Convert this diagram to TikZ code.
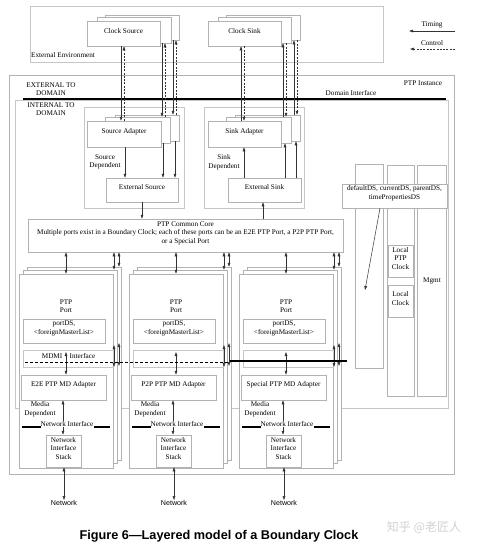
\documentclass[tikz,border=0pt]{standalone}
\usepackage{fontspec}
\setmainfont{Liberation Serif}
\newfontfamily\arialf{Liberation Sans}
\newfontfamily\cjkf{Noto Sans CJK SC}
\usetikzlibrary{arrows.meta,fit}
\begin{document}
\begin{tikzpicture}[x=1pt,y=-1pt,
  >={Triangle[length=4pt,width=2.6pt]},
  every node/.style={font=\fontsize{7.2}{8.6}\selectfont, inner sep=0pt, align=center},
  box/.style={draw=gray!60, fill=white, line width=0.5pt},
  frame/.style={draw=gray!45, line width=0.5pt},
  ar/.style={->, draw=black!80, line width=0.5pt},
  dar/.style={<->, draw=black!80, line width=0.5pt},
  ctl/.style={->, draw=black!80, line width=0.5pt, dash pattern=on 2pt off 1.3pt},
  thick line/.style={line width=1.3pt, draw=black},
  sans/.style={font=\arialf\fontsize{7.1}{8.5}\selectfont}]
\useasboundingbox (0,0) rectangle (481,547);
\fill[white] (0,0) rectangle (481,547);

% ---------------- external environment
\node[frame, fit={(30,6)(383,62)}] (env) {};
\node[anchor=west] (envl) at (31,55) {External Environment};
\node[box, fit={(105,15)(179,40)}] (csrcC) {};
\node[box, fit={(97,17)(171,43)}] (csrcB) {};
\node[box, fit={(87,21)(160,46)}] (csrc) {Clock Source};
\node[box, fit={(226,15)(300,40)}] (csnkC) {};
\node[box, fit={(218,17)(291,43)}] (csnkB) {};
\node[box, fit={(208,21)(281,46)}] (csnk) {Clock Sink};

% legend
\node (tim) at (432,25) {Timing};
\coordinate (tA) at (455,31); \coordinate (tB) at (409,31);
\draw[ar] (tA) -- (tB);
\node (con) at (432,43) {Control};
\coordinate (cA) at (455,49); \coordinate (cB) at (410,49);
\draw[ctl] (cA) -- (cB);

% ---------------- PTP instance
\node[box, fill=none, fit={(9,75)(454,474)}] (inst) {};
\node (instl) at (423,83) {PTP Instance};
\node[frame, fit={(15,100)(448,408)}] (intern) {};
\node (dil) at (351,93) {Domain Interface};
\coordinate (dl) at (23,99); \coordinate (dr) at (446,99);
\draw[thick line] (dl) -- (dr);
\node (ext) at (51,89) {EXTERNAL TO\\DOMAIN};
\node (int) at (51,109) {INTERNAL TO\\DOMAIN};

% source / sink groups
\node[frame, fit={(84,107)(184,208)}] (srcg) {};
\node[frame, fit={(204,107)(304,208)}] (snkg) {};
\node[box, fit={(115,115)(179,141)}] (srcadC) {};
\node[box, fit={(105,117)(170,143)}] (srcadB) {};
\node[box, fit={(87,121)(161,147)}] (srcad) {Source Adapter};
\node[box, fit={(235,115)(300,141)}] (snkadC) {};
\node[box, fit={(226,117)(291,143)}] (snkadB) {};
\node[box, fit={(208,121)(281,147)}] (snkad) {Sink Adapter};
\node (srcdep) at (105,162) {Source\\Dependent};
\node (snkdep) at (224,162) {Sink\\Dependent};
\node[box, fit={(106,178)(178,202)}] (extsrc) {External Source};
\node[box, fit={(228,178)(301,202)}] (extsnk) {External Sink};

% column coordinates
\foreach \n/\x in {sA/121,sAd/124,sB/162,sBd/165,sC/173,sCd/176,
                   kA/241,kAd/244,kB/283,kBd/286,kC/294,kCd/297,
                   lA/125,lB/163,lC/175,mA/244,mB/285,mC/296,
                   cs/142,ck/263,dsx/380}
  {\coordinate (\n) at (\x,0);}

% clock <-> adapter
\draw[ar]  (csrc.south -| sA)   -- (srcad.north -| sA);
\draw[ctl] (srcad.north -| sAd) -- (csrc.south -| sAd);
\draw[ar]  (csrcB.south -| sB)  -- (srcadB.north -| sB);
\draw[ctl] (srcadB.north -| sBd) -- (csrcB.south -| sBd);
\draw[ar]  (csrcC.south -| sC)  -- (srcadC.north -| sC);
\draw[ctl] (srcadC.north -| sCd) -- (csrcC.south -| sCd);
\draw[ar]  (snkad.north -| kA)  -- (csnk.south -| kA);
\draw[ctl] (csnk.south -| kAd)  -- (snkad.north -| kAd);
\draw[ar]  (snkadB.north -| kB) -- (csnkB.south -| kB);
\draw[ctl] (csnkB.south -| kBd) -- (snkadB.north -| kBd);
\draw[ar]  (snkadC.north -| kC) -- (csnkC.south -| kC);
\draw[ctl] (csnkC.south -| kCd) -- (snkadC.north -| kCd);

% adapter <-> external source/sink
\draw[ar] (srcad.south -| lA)  -- (extsrc.north -| lA);
\draw[ar] (srcadB.south -| lB) -- (extsrc.north -| lB);
\draw[ar] (srcadC.south -| lC) -- (extsrc.north -| lC);
\draw[ar] (extsnk.north -| mA) -- (snkad.south -| mA);
\draw[ar] (extsnk.north -| mB) -- (snkadB.south -| mB);
\draw[ar] (extsnk.north -| mC) -- (snkadC.south -| mC);

% common core
\node[box, fit={(28,219)(343,252)}] (core) {PTP Common Core\\Multiple ports exist in a Boundary Clock; each of these ports can be an E2E PTP Port, a P2P PTP Port,\\or a Special Port};
\draw[ar] (extsrc.south -| cs) -- (core.north -| cs);
\draw[ar] (core.north -| ck) -- (extsnk.south -| ck);

% management
\node[box, fit={(355,164)(383,368)}] (col1) {};
\node[box, fit={(387,165)(414,396)}] (col2) {};
\node[box, fit={(417,165)(446,396)}] (col3) {};
\node[box, fit={(342,184)(447,208)}] (ds) {defaultDS, currentDS, parentDS,\\timePropertiesDS};
\coordinate (dsA) at (365,290);
\draw[ar] (ds.south -| dsx) -- (dsA);
\node[box, fit={(388,245)(413,277)}] (lptp) {Local\\PTP\\Clock};
\node[box, fit={(388,285)(413,317)}] (lclk) {Local\\Clock};
\node (mgmt) at (432,281) {Mgmt};

% ---------------- ports
\foreach \px/\i/\t in {19/1/E2E PTP MD Adapter,129/2/P2P PTP MD Adapter,239/3/Special PTP MD Adapter}{
  \node[box, fit={({\px+8},267)({\px+102},460)}] (portC\i) {};
  \node[box, fit={({\px+4},270)({\px+98},463)}] (portB\i) {};
  \node[box, fit={(\px,274)({\px+94},468)}] (port\i) {};
  \node (ptpl\i) at ({\px+47},306) {PTP\\Port};
  \node[box, fit={({\px+4},319)({\px+86},343)}] (pds\i) {portDS,\\\textless foreignMasterList\textgreater};
  \node[frame, fit={({\px+4},350)({\px+94},367)}] (mdmi\i) {};
  \node[box, fit={({\px+2},375)({\px+87},400)}] (mda\i) {\t};
  \node (md\i) at ({\px+21},409) {Media\\Dependent};
  \node (ni\i) at ({\px+48},424) {Network Interface};
  \coordinate (nl1\i) at ({\px+3},427);  \coordinate (nl2\i) at ({\px+22},427);
  \coordinate (nr1\i) at ({\px+75},427); \coordinate (nr2\i) at ({\px+91},427);
  \draw[thick line] (nl1\i) -- (nl2\i);
  \draw[thick line] (nr1\i) -- (nr2\i);
  \node[box, fit={({\px+27},435)({\px+62},467)}] (nis\i) {Network\\Interface\\Stack};
  \node[sans] (net\i) at ({\px+45},503) {Network};
  % column coordinates
  \coordinate (pc\i) at ({\px+47},0);
  \coordinate (pa\i) at ({\px+44},0);
  \coordinate (pn\i) at ({\px+45},0);
  \coordinate (pr\i) at ({\px+95},0);
  \coordinate (pq\i) at ({\px+100},0);
  \coordinate (mt\i) at ({\px+47},352);
  \coordinate (ra\i) at ({\px+95},345); \coordinate (rb\i) at ({\px+95},367);
  \coordinate (qa\i) at ({\px+100},343); \coordinate (qb\i) at ({\px+100},366);
  % connectors
  \draw[dar] (core.south -| pc\i) -- (port\i.north -| pc\i);
  \draw[dar] (core.south -| pr\i) -- (portB\i.north -| pr\i);
  \draw[dar] (core.south -| pq\i) -- (portC\i.north -| pq\i);
  \draw[dar] (mt\i) -- (mda\i.north -| mt\i);
  \draw[dar] (ra\i) -- (rb\i);
  \draw[dar] (qa\i) -- (qb\i);
  \draw[ar] (ni\i.north -| pa\i) -- (mda\i.south -| pa\i);
  \draw[ar] (ni\i.south -| pa\i) -- (nis\i.north -| pa\i);
  \draw[dar] (nis\i.south -| pn\i) -- (net\i.north -| pn\i);
}

% MDMI interface
\node[fill=white, inner sep=0.5pt, anchor=east] (mdmiA) at (63,356) {MDMI};
\node[fill=white, inner sep=0.5pt, anchor=west] (mdmiB) at (69,356) {Interface};
\coordinate (mdL) at (25,362); \coordinate (mdM) at (230,362);
\coordinate (mdM2) at (230,361); \coordinate (mdR) at (347,361);
\draw[line width=0.8pt, dash pattern=on 3pt off 2pt] (mdL) -- (mdM);
\draw[thick line] (mdM2) -- (mdR);

% caption
\node[font=\arialf\bfseries\fontsize{12.7}{15}\selectfont] (cap) at (219,536) {Figure 6—Layered model of a Boundary Clock};
\node[font=\cjkf\fontsize{12}{14}\selectfont, text=gray!35] (wm) at (424,527) {知乎 @老匠人};
\end{tikzpicture}
\end{document}
